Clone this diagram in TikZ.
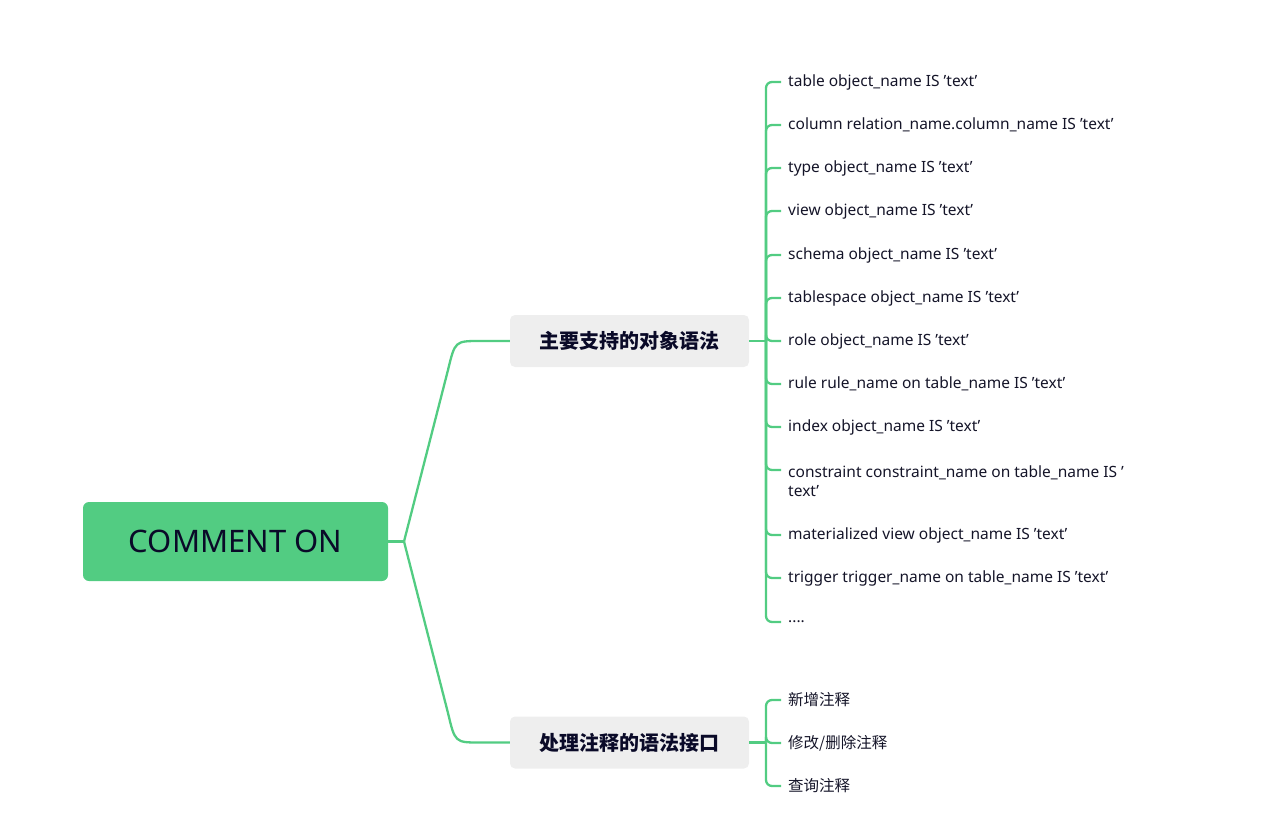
\documentclass[tikz,border=0pt]{standalone}
\usepackage{fontspec}
\setmainfont{Noto Sans}
\newfontfamily\cjk{Noto Sans CJK SC}
\newcommand\qq{\char39}
\begin{document}
\begin{tikzpicture}[x=1pt,y=-1pt,
  conn/.style={line width=2.3pt,color={rgb,255:red,82;green,204;blue,130}},
  leaf/.style={anchor=west,inner sep=0pt,font=\fontsize{15.5}{19}\selectfont,text={rgb,255:red,20;green,20;blue,40},align=left},
  br/.style={fill={rgb,255:red,238;green,238;blue,238},rounded corners=5pt,minimum width=239pt,minimum height=52pt,font=\cjk\bfseries\fontsize{20}{24}\selectfont,text={rgb,255:red,10;green,10;blue,40}}]
\useasboundingbox (0,0) rectangle (1261,835);
\node[fill={rgb,255:red,82;green,204;blue,130},rounded corners=6pt,minimum width=305pt,minimum height=79pt,font=\bfseries\fontsize{31}{36}\selectfont,text={rgb,255:red,10;green,10;blue,40}] (root) at (235.5,541.5) {COMMENT ON};
\node[br] (b1) at (629.5,341) {主要支持的对象语法};
\node[br] (b2) at (629.5,742.5) {处理注释的语法接口};
\coordinate (j) at (404,541.5);
\draw[conn] (root.east) -- (j);
\draw[conn] (j) -- (448,370) .. controls (455,341) .. (480,341) -- (b1.west);
\draw[conn] (j) -- (448,713) .. controls (455,742.5) .. (480,742.5) -- (b2.west);
\foreach \y/\t [count=\i] in {82/{table object\_name IS \qq text\qq},125/{column relation\_name.column\_name IS \qq text\qq},168/{type object\_name IS \qq text\qq},211/{view object\_name IS \qq text\qq},255/{schema object\_name IS \qq text\qq},298/{tablespace object\_name IS \qq text\qq},341/{role object\_name IS \qq text\qq},384/{rule rule\_name on table\_name IS \qq text\qq},427/{index object\_name IS \qq text\qq},481/{constraint constraint\_name on table\_name IS \qq\\text\qq},535/{materialized view object\_name IS \qq text\qq},578/{trigger trigger\_name on table\_name IS \qq text\qq},622/{....}}{
  \node[leaf] (l\i) at (788,\y) {\t};
  \draw[conn,rounded corners=6pt] (766,341) |- (781,{\y==481?470:\y});
}
\draw[conn] (b1.east) -- (766,341);
\foreach \y/\t [count=\i] in {700/{新增注释},743/{修改/删除注释},786/{查询注释}}{
  \node[leaf,font=\cjk\fontsize{15.5}{19}\selectfont] (m\i) at (788,\y) {\t};
  \draw[conn,rounded corners=6pt] (766,742.5) |- (781,\y);
}
\draw[conn] (b2.east) -- (766,742.5);
\end{tikzpicture}
\end{document}
